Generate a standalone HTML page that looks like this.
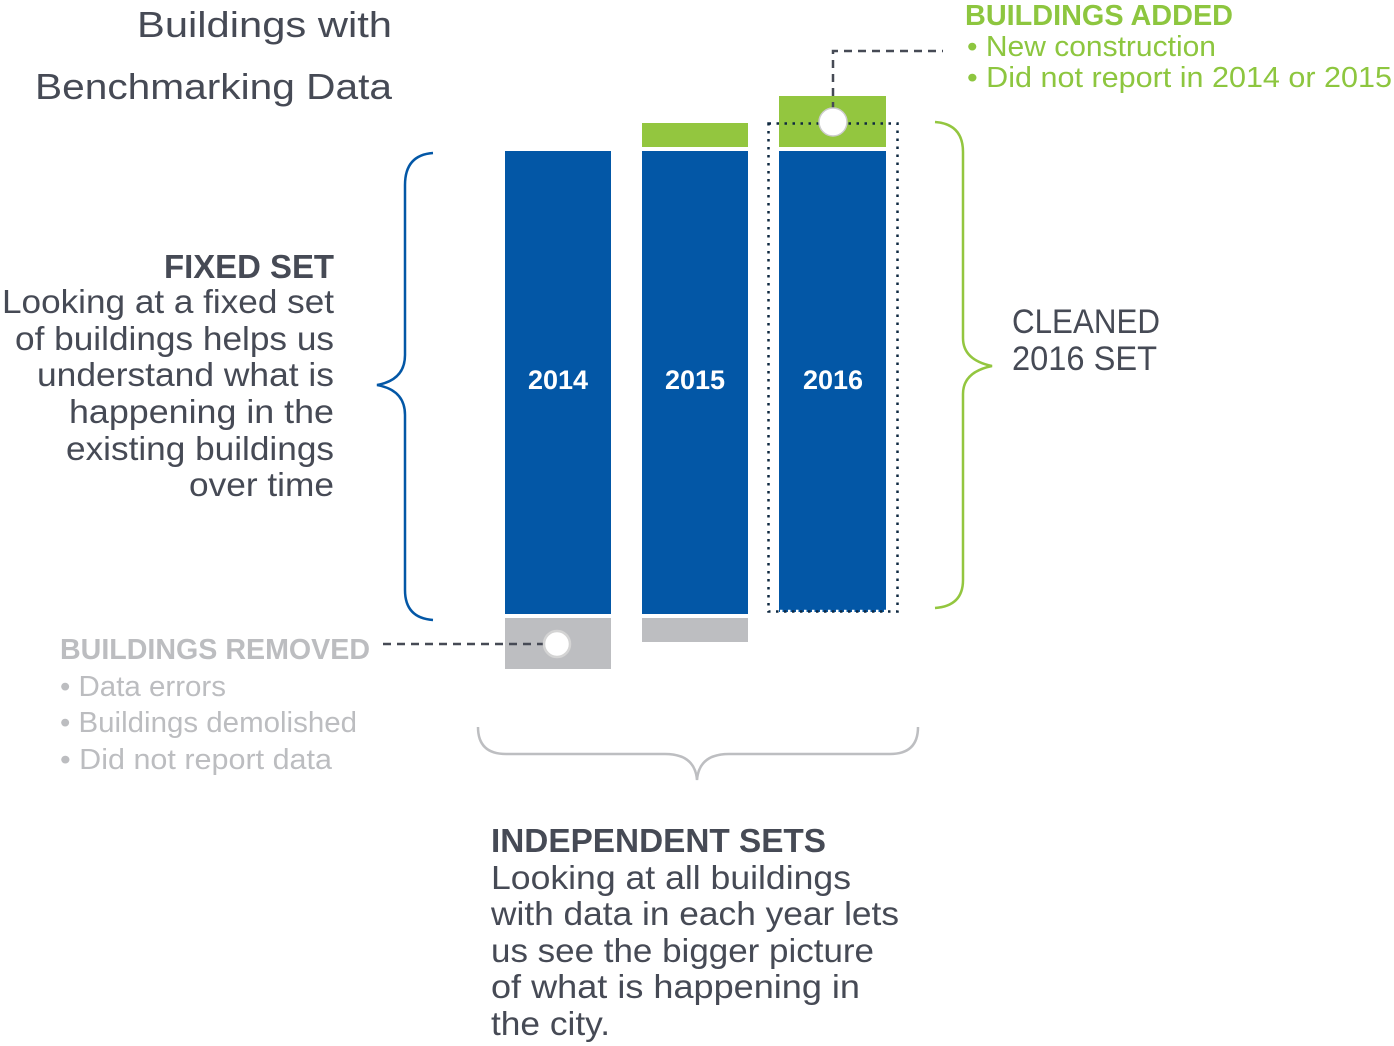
<!DOCTYPE html>
<html><head><meta charset="utf-8"><style>
html,body{margin:0;padding:0;background:#fff}
svg{display:block}
text{font-family:"Liberation Sans",sans-serif}
</style></head><body>
<svg width="1394" height="1046" viewBox="0 0 1394 1046" xmlns="http://www.w3.org/2000/svg">
<g fill="#464a55" font-size="36">
<text x="392" y="37" text-anchor="end" textLength="255" lengthAdjust="spacingAndGlyphs">Buildings with</text>
<text x="392" y="99" text-anchor="end" textLength="357" lengthAdjust="spacingAndGlyphs">Benchmarking Data</text>
</g>
<g fill="#464a55" font-size="33" text-anchor="end">
<text x="334" y="278" font-weight="bold" textLength="170" lengthAdjust="spacingAndGlyphs">FIXED SET</text>
<text x="334" y="313" textLength="332" lengthAdjust="spacingAndGlyphs">Looking at a fixed set</text>
<text x="334" y="350" textLength="319" lengthAdjust="spacingAndGlyphs">of buildings helps us</text>
<text x="334" y="386" textLength="297" lengthAdjust="spacingAndGlyphs">understand what is</text>
<text x="334" y="423" textLength="265" lengthAdjust="spacingAndGlyphs">happening in the</text>
<text x="334" y="460" textLength="268" lengthAdjust="spacingAndGlyphs">existing buildings</text>
<text x="334" y="496" textLength="145" lengthAdjust="spacingAndGlyphs">over time</text>
</g>
<!-- bars -->
<rect x="505" y="151" width="106" height="463" fill="#0357a6"/>
<rect x="505" y="618" width="106" height="51" fill="#bdbec1"/>
<rect x="642" y="151" width="106" height="463" fill="#0357a6"/>
<rect x="642" y="123" width="106" height="24" fill="#93c63f"/>
<rect x="642" y="618" width="106" height="24" fill="#bdbec1"/>
<rect x="779" y="151" width="107" height="461" fill="#0357a6"/>
<rect x="779" y="96" width="107" height="51" fill="#93c63f"/>
<g fill="#fff" font-size="27" font-weight="bold" text-anchor="middle">
<text x="558" y="389">2014</text><text x="695" y="389">2015</text><text x="833" y="389">2016</text>
</g>
<rect x="768.5" y="123.5" width="129" height="488" fill="none" stroke="#0f2840" stroke-width="2.5" stroke-dasharray="2.5 5.5"/>
<line x1="780" y1="611" x2="886" y2="611" stroke="#fff" stroke-width="2.5" stroke-dasharray="2.5 5.5"/>
<!-- connectors -->
<path d="M833 110 V51 H943" fill="none" stroke="#464a55" stroke-width="2.5" stroke-dasharray="8 6"/>
<circle cx="833" cy="122" r="14" fill="#fff" stroke="#ccc" stroke-width="1.5"/>
<path d="M383 644 H545" fill="none" stroke="#464a55" stroke-width="2.5" stroke-dasharray="8 6"/>
<circle cx="557" cy="644" r="13" fill="#fff" stroke="#d4d4d4" stroke-width="2.5"/>
<!-- braces -->
<path d="M433 153 Q405 155 405 185 V355 Q405 380 377 385 Q405 390 405 415 V590 Q405 618 433 620" fill="none" stroke="#0357a6" stroke-width="2.5"/>
<path d="M935 122 Q963 124 963 152 V338 Q963 360 992 366 Q963 372 963 394 V580 Q963 606 935 608" fill="none" stroke="#93c63f" stroke-width="2.5"/>
<path d="M478 727 Q478 754 506 754 H665 Q695 754 697 780 Q699 754 729 754 H890 Q918 754 918 727" fill="none" stroke="#bdbec1" stroke-width="2.5"/>
<!-- cleaned -->
<g fill="#464a55" font-size="34">
<text x="1012" y="333" textLength="148" lengthAdjust="spacingAndGlyphs">CLEANED</text>
<text x="1012" y="370" textLength="145" lengthAdjust="spacingAndGlyphs">2016 SET</text>
</g>
<!-- added -->
<g fill="#8dc63f" font-size="29">
<text x="965" y="25" font-weight="bold" textLength="268" lengthAdjust="spacingAndGlyphs">BUILDINGS ADDED</text>
<text x="967" y="56" textLength="249" lengthAdjust="spacingAndGlyphs">• New construction</text>
<text x="967" y="87" textLength="425" lengthAdjust="spacingAndGlyphs">• Did not report in 2014 or 2015</text>
</g>
<!-- removed -->
<g fill="#bcbdc0" font-size="29">
<text x="60" y="659" font-weight="bold" textLength="310" lengthAdjust="spacingAndGlyphs">BUILDINGS REMOVED</text>
<text x="60" y="696" textLength="166" lengthAdjust="spacingAndGlyphs">• Data errors</text>
<text x="60" y="732" textLength="297" lengthAdjust="spacingAndGlyphs">• Buildings demolished</text>
<text x="60" y="769" textLength="272" lengthAdjust="spacingAndGlyphs">• Did not report data</text>
</g>
<!-- independent -->
<g fill="#464a55" font-size="33">
<text x="491" y="852" font-weight="bold" textLength="335" lengthAdjust="spacingAndGlyphs">INDEPENDENT SETS</text>
<text x="491" y="889" textLength="360" lengthAdjust="spacingAndGlyphs">Looking at all buildings</text>
<text x="491" y="925" textLength="408" lengthAdjust="spacingAndGlyphs">with data in each year lets</text>
<text x="491" y="962" textLength="383" lengthAdjust="spacingAndGlyphs">us see the bigger picture</text>
<text x="491" y="998" textLength="369" lengthAdjust="spacingAndGlyphs">of what is happening in</text>
<text x="491" y="1035" textLength="119" lengthAdjust="spacingAndGlyphs">the city.</text>
</g>
</svg>
</body></html>
